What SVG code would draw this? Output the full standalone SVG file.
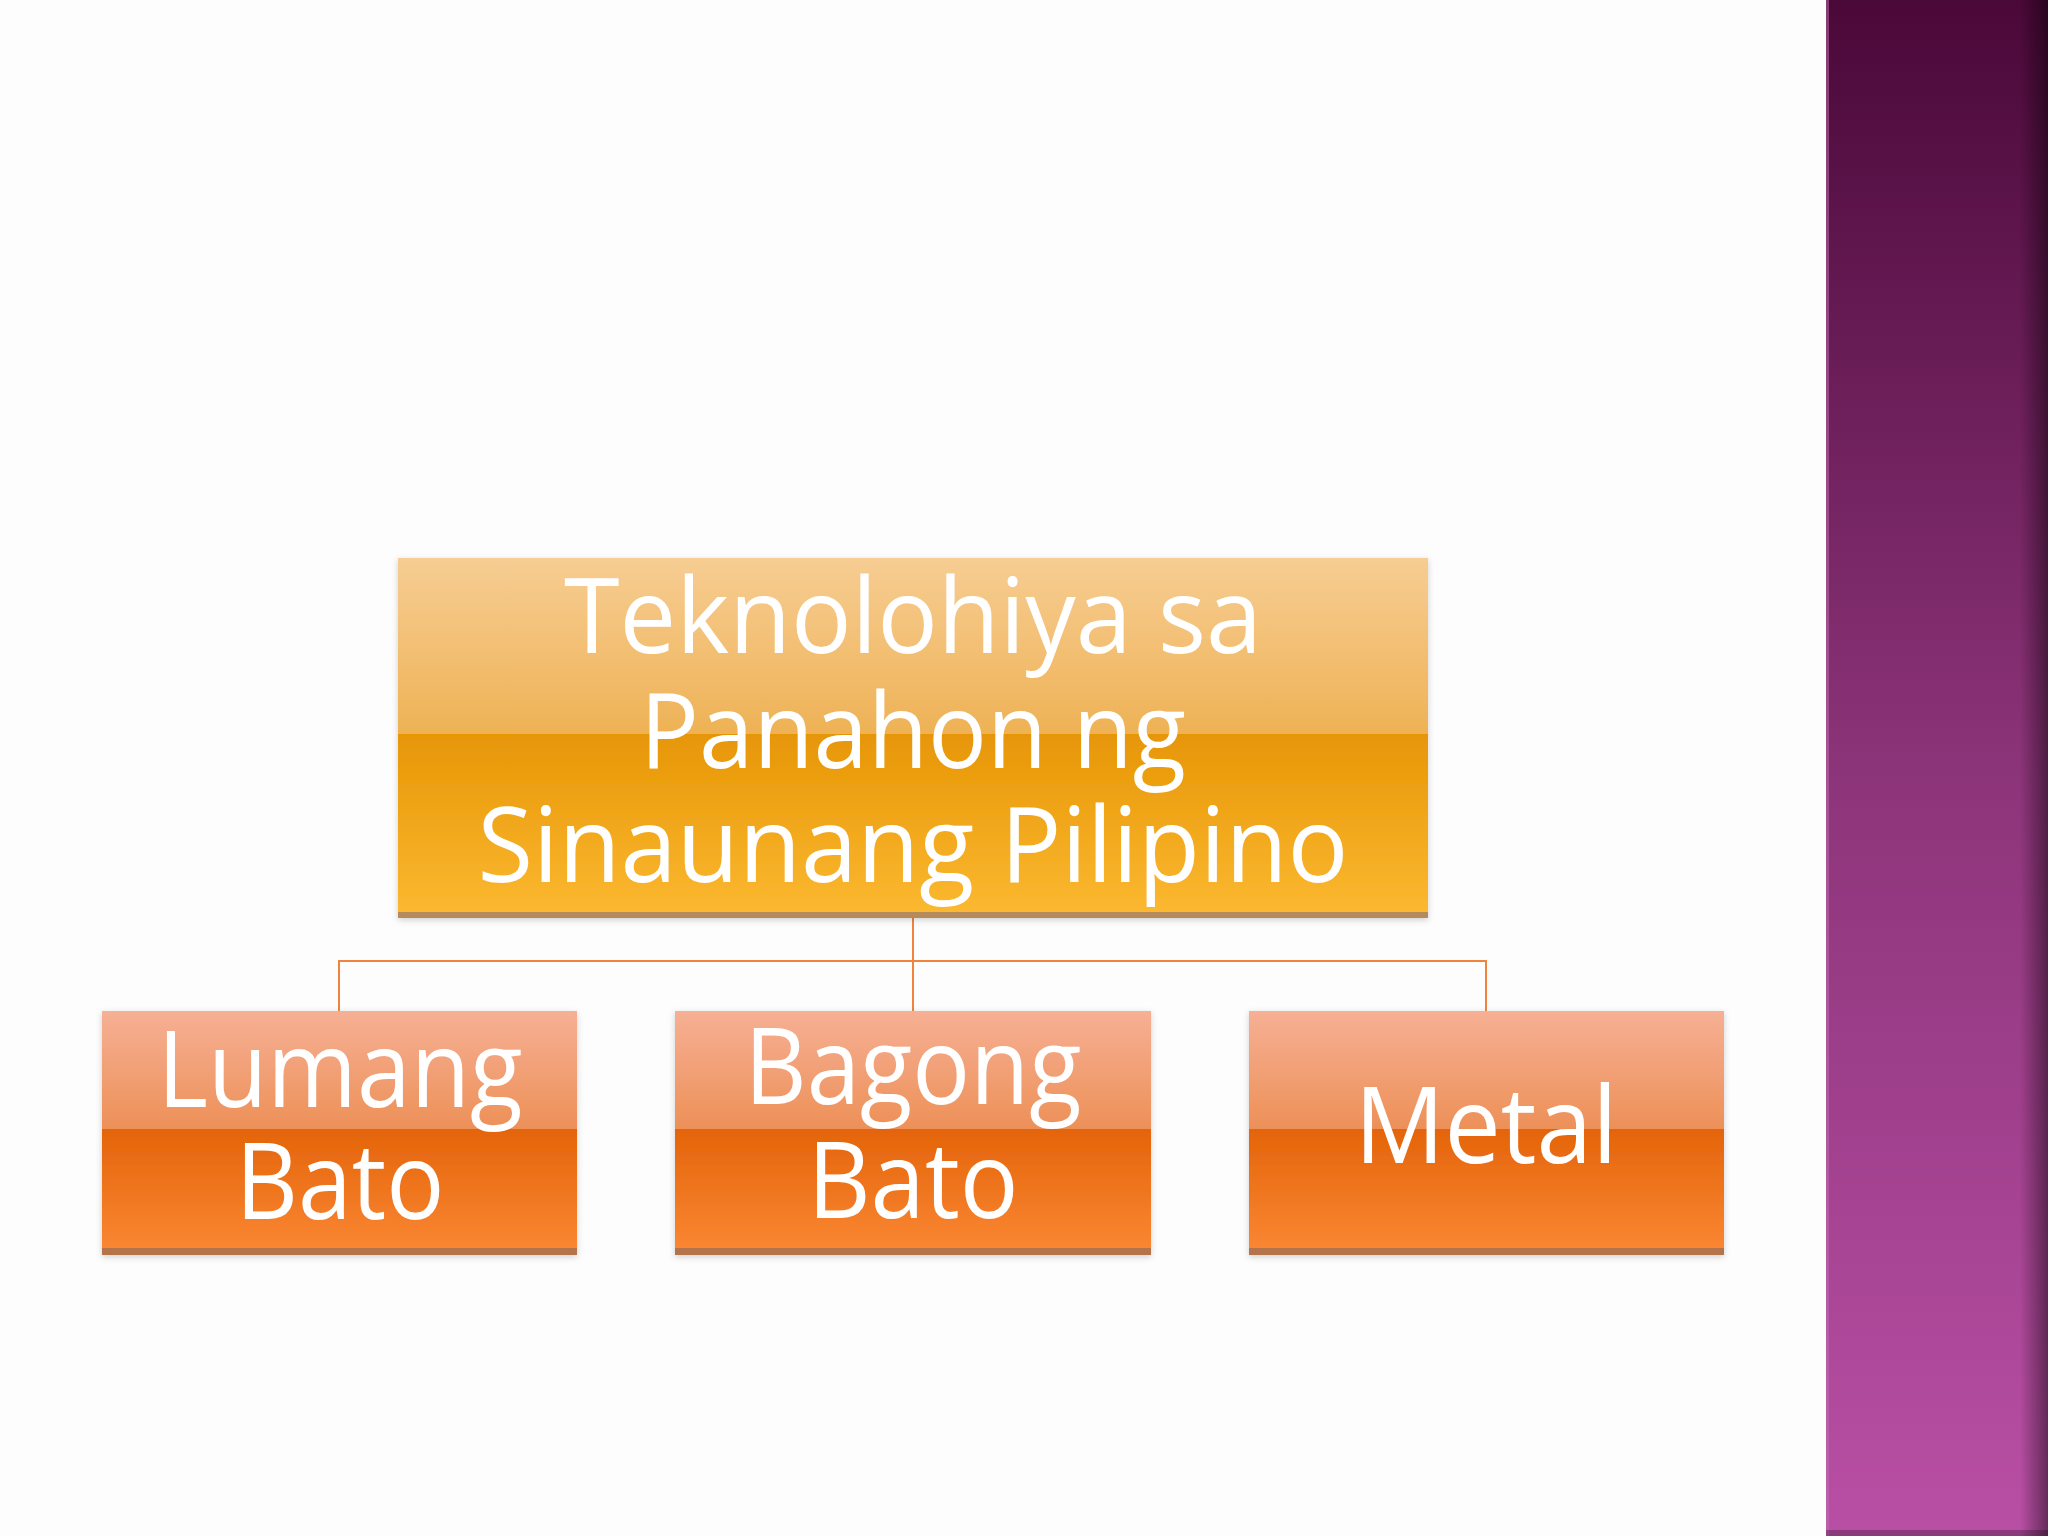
<svg xmlns="http://www.w3.org/2000/svg" width="2048" height="1536" viewBox="0 0 2048 1536">
<defs>
<linearGradient id="topHi" x1="0" y1="0" x2="0" y2="1"><stop offset="0" stop-color="#f7cd93"/><stop offset="1" stop-color="#eeb255"/></linearGradient>
<linearGradient id="topLo" x1="0" y1="0" x2="0" y2="1"><stop offset="0" stop-color="#e79606"/><stop offset="1" stop-color="#fbb830"/></linearGradient>
<linearGradient id="chHi" x1="0" y1="0" x2="0" y2="1"><stop offset="0" stop-color="#f6b094"/><stop offset="1" stop-color="#ed9058"/></linearGradient>
<linearGradient id="chLo" x1="0" y1="0" x2="0" y2="1"><stop offset="0" stop-color="#e4640a"/><stop offset="1" stop-color="#fa8632"/></linearGradient>
<linearGradient id="bar" x1="0" y1="0" x2="0" y2="1"><stop offset="0" stop-color="#4a0838"/><stop offset="0.5" stop-color="#8c3479"/><stop offset="1" stop-color="#b94fa5"/></linearGradient>
<linearGradient id="barEdge" x1="0" y1="0" x2="1" y2="0"><stop offset="0" stop-color="#000" stop-opacity="0"/><stop offset="1" stop-color="#000" stop-opacity="0.45"/></linearGradient>
<filter id="sh" x="-5%" y="-5%" width="110%" height="115%"><feDropShadow dx="0" dy="2" stdDeviation="3" flood-color="#000" flood-opacity="0.18"/></filter>
<style>
.lbl{font-family:"Open Sans","DejaVu Sans",sans-serif;fill:#ffffff;text-anchor:middle}
.big{font-size:104px}
.mid{font-size:106px}
.conn{fill:none;stroke:#f0843e;stroke-width:2}
</style>
</defs>
<rect x="0" y="0" width="2048" height="1536" fill="#fdfdfd"/>
<g id="sidebar">
<rect x="1826" y="0" width="222" height="1536" fill="url(#bar)"/>
<rect x="2020" y="0" width="28" height="1536" fill="url(#barEdge)"/>
<rect x="1826" y="0" width="3" height="1536" fill="#c070b0" opacity="0.5"/>
<rect x="1826" y="1530" width="222" height="6" fill="#000" opacity="0.25"/>
</g>
<g id="connectors">
<path class="conn" d="M913 914 V961 M339 1011 V961 H1486 V1011 M913 961 V1011"/>
</g>
<g id="node-root" filter="url(#sh)">
<rect x="398" y="910" width="1030" height="8" fill="#b58b5c"/>
<rect x="398" y="558" width="1030" height="176" fill="url(#topHi)"/>
<rect x="398" y="734" width="1030" height="178" fill="url(#topLo)"/>
<text class="lbl big" x="913" y="653" textLength="698" lengthAdjust="spacingAndGlyphs">Teknolohiya sa</text>
<text class="lbl big" x="913" y="768" textLength="546" lengthAdjust="spacingAndGlyphs">Panahon ng</text>
<text class="lbl big" x="913" y="882" textLength="871" lengthAdjust="spacingAndGlyphs">Sinaunang Pilipino</text>
</g>
<g id="node-lumang" filter="url(#sh)">
<rect x="102" y="1246" width="475" height="9" fill="#b5734c"/>
<rect x="102" y="1011" width="475" height="118" fill="url(#chHi)"/>
<rect x="102" y="1129" width="475" height="119" fill="url(#chLo)"/>
<text class="lbl mid" x="340" y="1107" textLength="365" lengthAdjust="spacingAndGlyphs">Lumang</text>
<text class="lbl mid" x="340" y="1219" textLength="209" lengthAdjust="spacingAndGlyphs">Bato</text>
</g>
<g id="node-bagong" filter="url(#sh)">
<rect x="675" y="1246" width="476" height="9" fill="#b5734c"/>
<rect x="675" y="1011" width="476" height="118" fill="url(#chHi)"/>
<rect x="675" y="1129" width="476" height="119" fill="url(#chLo)"/>
<text class="lbl mid" x="913" y="1104" textLength="337" lengthAdjust="spacingAndGlyphs">Bagong</text>
<text class="lbl mid" x="913" y="1218" textLength="211" lengthAdjust="spacingAndGlyphs">Bato</text>
</g>
<g id="node-metal" filter="url(#sh)">
<rect x="1249" y="1246" width="475" height="9" fill="#b5734c"/>
<rect x="1249" y="1011" width="475" height="118" fill="url(#chHi)"/>
<rect x="1249" y="1129" width="475" height="119" fill="url(#chLo)"/>
<text class="lbl mid" x="1486" y="1163" textLength="263" lengthAdjust="spacingAndGlyphs">Metal</text>
</g>
</svg>
